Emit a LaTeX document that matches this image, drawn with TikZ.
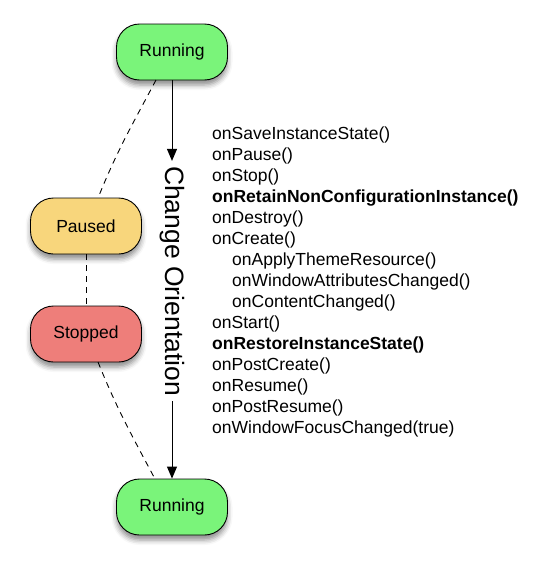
\documentclass[tikz,border=0pt]{standalone}
\usepackage{fontspec}
\setmainfont{Liberation Sans}
\usetikzlibrary{arrows.meta,shadows.blur}
\definecolor{rungreen}{RGB}{122,244,122}
\definecolor{pauseyellow}{RGB}{248,214,124}
\definecolor{stopred}{RGB}{238,126,122}

\begin{document}
\begin{tikzpicture}
  [x=1pt,y=-1pt,
   state/.style={draw,line width=0.9pt,rounded corners=23pt,minimum width=111pt,minimum height=56pt,
     font=\fontsize{17.5}{21}\selectfont,
     blur shadow={shadow xshift=0pt,shadow yshift=-5pt,shadow blur radius=5pt,shadow opacity=45}},
   lifeline/.style={line width=0.9pt,dash pattern=on 6pt off 5pt},
   calls/.style={anchor=base west,inner sep=0pt,align=left,font=\fontsize{17.5}{21}\selectfont}]
  \useasboundingbox (0,0) rectangle (540,573);

  \node[state,fill=rungreen] (run1) at (172,52) {Running};
  \node[state,fill=pauseyellow] (paused) at (86,226) {Paused};
  \node[state,fill=stopred] (stopped) at (86,334) {Stopped};
  \node[state,fill=rungreen] (run2) at (172,507) {Running};

  \node[rotate=-90,inner xsep=5pt,inner ysep=0pt,font=\fontsize{26.5}{30}\selectfont]
    (turn) at (172,281) {Change Orientation};

 \path[-{Triangle[length=12pt,width=10pt]}, draw,line width=1pt]
        (run1) edge (turn)
        (turn) edge (run2);

 % lifecycle path, dashed
 \draw[lifeline] (156,80) to[out=-118,in=68] (98,198);
 \draw[lifeline] (paused.south) -- (stopped.north);
 \draw[lifeline] (98,362) to[out=-68,in=118] (155,479);

 % base anchor sits on the last line
  \node[calls] (list) at (212,433.5) {onSaveInstanceState()\\
    onPause()\\
    onStop()\\
    \textbf{onRetainNonConfigurationInstance()}\\
    onDestroy()\\
    onCreate()\\
    \hspace{20pt}onApplyThemeResource()\\
    \hspace{20pt}onWindowAttributesChanged()\\
    \hspace{20pt}onContentChanged()\\
    onStart()\\
    \textbf{onRestoreInstanceState()}\\
    onPostCreate()\\
    onResume()\\
    onPostResume()\\
    onWindowFocusChanged(true)};

\end{tikzpicture}
\end{document}
